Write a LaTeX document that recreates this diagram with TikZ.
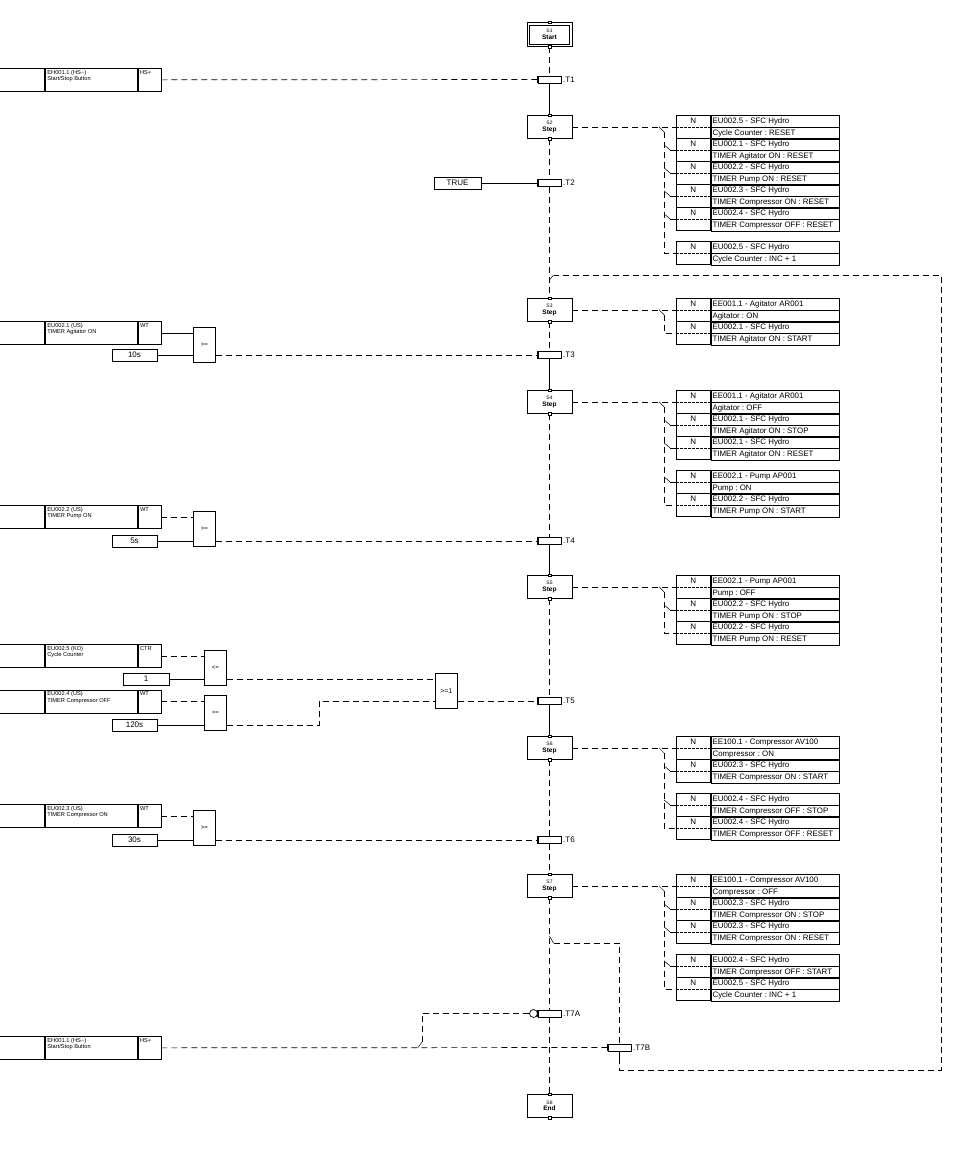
\documentclass[tikz,border=0pt]{standalone}
\usepackage{fontspec}
\setmainfont{Liberation Sans}
\usetikzlibrary{calc}

\tikzset{
  stepnode/.style={draw, fill=white, minimum width=45pt, minimum height=23pt, inner sep=0pt, align=center, font=\fontsize{6.5}{7}\selectfont\bfseries},
  trans/.style={draw, fill=white, minimum width=23pt, minimum height=7pt, inner sep=0pt},
  tlab/.style={font=\fontsize{8}{8}\selectfont, inner sep=1.5pt},
  ncell/.style={draw, minimum width=34pt, minimum height=23pt, inner sep=0pt},
  ntext/.style={minimum height=11.5pt, inner sep=0pt, font=\fontsize{8}{8}\selectfont},
  arow/.style={draw, minimum height=11.5pt, text width=125pt, inner xsep=1.5pt, inner ysep=0pt, align=flush left, font=\fontsize{7.9}{8}\selectfont\frenchspacing},
  varcut/.style={draw, minimum width=60pt, minimum height=23pt, inner sep=0pt},
  varcell/.style={draw, minimum width=92pt, minimum height=23pt, inner sep=0pt},
  typecell/.style={draw, minimum width=23pt, minimum height=23pt, inner sep=0pt},
  vartxt/.style={font=\fontsize{5.7}{6.3}\selectfont, align=left, inner xsep=2pt, inner ysep=2pt},
  constbox/.style={draw, minimum width=45pt, minimum height=12pt, inner sep=0pt, font=\fontsize{8}{8}\selectfont},
  gate/.style={draw, minimum width=22pt, minimum height=35pt, inner sep=0pt, font=\fontsize{6}{6}\selectfont},
  conn/.style={dash pattern=on 6pt off 4pt},
  fine/.style={dash pattern=on 2.5pt off 1.5pt, line width=0.5pt},
  wire/.style={solid},
  tick/.style={solid, line width=0.5pt}
}

% step label: small number over bold name
\newcommand{\stp}[2]{{\fontsize{5}{5}\selectfont\mdseries S#1}\\[-0.5pt]#2}

% one action: N cell plus two text rows
\newcommand{\actn}[4]{%
  \node[ncell, anchor=north west] (#1) at (676,#2) {};
  \node[ntext, anchor=north] (#1n) at (#1.north) {N};
  \node[arow, anchor=north west] (#1a) at (#1.north east) {#3};
  \node[arow, anchor=north west] (#1b) at (#1a.south west) {#4};
}

% variable box on the left edge
\newcommand{\varbox}[5]{%
  \node[varcut, anchor=north east] (#1c) at (45,#2) {};
  \node[varcell, anchor=north west] (#1) at (45,#2) {};
  \node[vartxt, anchor=north west] (#1l) at (#1.north west) {#3\\#4};
  \node[typecell, anchor=north west] (#1t) at (#1.north east) {};
  \node[vartxt, anchor=north west] (#1tl) at (#1t.north west) {#5};
}

% step to its actions: first, last, middle ones
\newcommand{\actlink}[4]{%
  \draw[conn] (#1.east) -- (#2.west);
  \draw[tick] ($(#2.west)+(-17,0)$) -- ($(#2.west)+(-12,5)$);
  \draw[conn] ($(#2.west)+(-12,5)$) |- (#3.west);
  \foreach \m in {#4} {
    \draw[tick] ($(\m.west)+(-12,-5)$) -- ($(\m.west)+(-6,0)$);
    \draw[conn] ($(\m.west)+(-6,0)$) -- (\m.west);
  }
}

\begin{document}
\begin{tikzpicture}[x=1pt,y=-1pt,line width=0.7pt]
  \clip (0,0) rectangle (980,1152);
  \fill[white] (0,0) rectangle (980,1152);

  % steps
  \node[stepnode, minimum height=24pt, anchor=north] (S1) at (549.5,22) {\stp{1}{Start}};
  \node[draw, minimum width=40pt, minimum height=19pt, inner sep=0pt] (S1i) at (S1.center) {};
  \node[stepnode, anchor=north] (S2) at (549.5,115) {\stp{2}{Step}};
  \node[stepnode, anchor=north] (S3) at (549.5,298) {\stp{3}{Step}};
  \node[stepnode, anchor=north] (S4) at (549.5,390) {\stp{4}{Step}};
  \node[stepnode, anchor=north] (S5) at (549.5,575) {\stp{5}{Step}};
  \node[stepnode, anchor=north] (S6) at (549.5,736) {\stp{6}{Step}};
  \node[stepnode, anchor=north] (S7) at (549.5,874) {\stp{7}{Step}};
  \node[stepnode, anchor=north] (S8) at (549.5,1094) {\stp{8}{End}};

  % transitions
  \node[trans, label={[tlab]east:.T1}] (T1) at (549.5,79.5) {};
  \node[trans, label={[tlab]east:.T2}] (T2) at (549.5,183) {};
  \node[trans, label={[tlab]east:.T3}] (T3) at (549.5,355) {};
  \node[trans, label={[tlab]east:.T4}] (T4) at (549.5,541) {};
  \node[trans, label={[tlab]east:.T5}] (T5) at (549.5,701) {};
  \node[trans, label={[tlab]east:.T6}] (T6) at (549.5,840) {};
  \node[trans, label={[tlab]east:.T7A}] (T7A) at (549.5,1013.5) {};
  \node[draw, circle, minimum size=8pt, inner sep=0pt] (T7An) at (533.5,1013.5) {};
  \node[trans, label={[tlab]east:.T7B}] (T7B) at (619.5,1047.5) {};

  % main chain
  \foreach \a/\b/\s in {S1/T1/conn, T1/S2/wire, S2/T2/conn, T2/S3/conn, S3/T3/conn,
      T3/S4/wire, S4/T4/conn, T4/S5/wire, S5/T5/conn, T5/S6/wire, S6/T6/conn,
      T6/S7/conn, S7/T7A/conn, T7A/S8/conn}
    \draw[\s] (\a.south) -- (\b.north);

  % loop back from T7B
  \coordinate (b7a) at (549.5,936);
  \coordinate (b7b) at (553.5,943);
  \draw[tick] (b7a) -- (b7b);
  \draw[conn] (b7b) -| (T7B.north);
  \draw[wire] (T7B.south) -- ++(0,7) coordinate (lp0);
  \coordinate (lpA) at (941,1070);
  \coordinate (lpB) at (941,275);
  \coordinate (lpC) at (553.5,275);
  \draw[conn] (lp0) |- (lpA) -- (lpB) -- (lpC);
  \draw[tick] (lpC) -- (549.5,280);

  % actions
  \actn{a21}{115}{EU002.5 - SFC Hydro}{Cycle Counter : RESET}
  \actn{a22}{138}{EU002.1 - SFC Hydro}{TIMER Agitator ON : RESET}
  \actn{a23}{161}{EU002.2 - SFC Hydro}{TIMER Pump ON : RESET}
  \actn{a24}{184}{EU002.3 - SFC Hydro}{TIMER Compressor ON : RESET}
  \actn{a25}{207}{EU002.4 - SFC Hydro}{TIMER Compressor OFF : RESET}
  \actn{a26}{241}{EU002.5 - SFC Hydro}{Cycle Counter : INC + 1}
  \actn{a31}{298}{EE001.1 - Agitator AR001}{Agitator : ON}
  \actn{a32}{321}{EU002.1 - SFC Hydro}{TIMER Agitator ON : START}
  \actn{a41}{390}{EE001.1 - Agitator AR001}{Agitator : OFF}
  \actn{a42}{413}{EU002.1 - SFC Hydro}{TIMER Agitator ON : STOP}
  \actn{a43}{436}{EU002.1 - SFC Hydro}{TIMER Agitator ON : RESET}
  \actn{a44}{470}{EE002.1 - Pump AP001}{Pump : ON}
  \actn{a45}{493}{EU002.2 - SFC Hydro}{TIMER Pump ON : START}
  \actn{a51}{575}{EE002.1 - Pump AP001}{Pump : OFF}
  \actn{a52}{598}{EU002.2 - SFC Hydro}{TIMER Pump ON : STOP}
  \actn{a53}{621}{EU002.2 - SFC Hydro}{TIMER Pump ON : RESET}
  \actn{a61}{736}{EE100.1 - Compressor AV100}{Compressor : ON}
  \actn{a62}{759}{EU002.3 - SFC Hydro}{TIMER Compressor ON : START}
  \actn{a63}{793}{EU002.4 - SFC Hydro}{TIMER Compressor OFF : STOP}
  \actn{a64}{816}{EU002.4 - SFC Hydro}{TIMER Compressor OFF : RESET}
  \actn{a71}{874}{EE100.1 - Compressor AV100}{Compressor : OFF}
  \actn{a72}{897}{EU002.3 - SFC Hydro}{TIMER Compressor ON : STOP}
  \actn{a73}{920}{EU002.3 - SFC Hydro}{TIMER Compressor ON : RESET}
  \actn{a74}{954}{EU002.4 - SFC Hydro}{TIMER Compressor OFF : START}
  \actn{a75}{977}{EU002.5 - SFC Hydro}{Cycle Counter : INC + 1}

  % step to action links
  \actlink{S2}{a21}{a26}{a22,a23,a24,a25}
  \draw[conn] (S3.east) -- (a31.west);
  \draw[tick] ($(a31.west)+(-17,0)$) -- ($(a31.west)+(-12,5)$);
  \draw[conn] ($(a31.west)+(-12,5)$) |- (a32.west);
  \actlink{S4}{a41}{a45}{a42,a43,a44}
  \actlink{S5}{a51}{a53}{a52}
  \actlink{S6}{a61}{a64}{a62,a63}
  \actlink{S7}{a71}{a75}{a72,a73,a74}
  \foreach \a in {a21,a22,a23,a24,a25,a26,a31,a32,a41,a42,a43,a44,a45,
      a51,a52,a53,a61,a62,a63,a64,a71,a72,a73,a74,a75}
    \draw[fine] (\a.west) -- (\a.east);

  % conditions on the left
  \varbox{v1}{68}{EH001.1 (HS−)}{Start/Stop Button}{HS+}
  \draw[conn] (v1t.east) -- (T1.west);

  \node[constbox, minimum width=47pt] (c2) at (457.5,183) {TRUE};
  \draw[wire] (c2.east) -- (T2.west);

  \varbox{v3}{321}{EU002.1 (US)}{TIMER Agitator ON}{WT}
  \node[gate, anchor=north west] (g3) at (193,327) {>=};
  \node[constbox] (c3) at (134.5,355) {10s};
  \draw[wire] (v3t.east) -- (v3t.east -| g3.west);
  \draw[wire] (c3.east) -- (c3.east -| g3.west);
  \draw[conn] (c3.east -| g3.east) -- (T3.west);

  \varbox{v4}{505}{EU002.2 (US)}{TIMER Pump ON}{WT}
  \node[gate, anchor=north west] (g4) at (193,511) {>=};
  \node[constbox] (c4) at (134.5,541) {5s};
  \draw[conn] (v4t.east) -- (v4t.east -| g4.west);
  \draw[wire] (c4.east) -- (c4.east -| g4.west);
  \draw[conn] (c4.east -| g4.east) -- (T4.west);

  \varbox{v5a}{644}{EU002.5 (KO)}{Cycle Counter}{CTR}
  \node[gate, anchor=north west] (g5a) at (204,650) {<=};
  \node[constbox, minimum width=46pt] (c5a) at (146,679) {1};
  \varbox{v5b}{689.5}{EU002.4 (US)}{TIMER Compressor OFF}{WT}
  \node[gate, anchor=north west] (g5b) at (204,695) {>=};
  \node[constbox] (c5b) at (134.5,725) {120s};
  \node[gate, anchor=north west, font=\fontsize{7}{7}\selectfont] (g5c) at (435,673) {>=1};
  \coordinate (j5) at (319,701);
  \draw[conn] (v5at.east) -- (v5at.east -| g5a.west);
  \draw[wire] (c5a.east) -- (c5a.east -| g5a.west);
  \draw[conn] (v5bt.east) -- (v5bt.east -| g5b.west);
  \draw[wire] (c5b.east) -- (c5b.east -| g5b.west);
  \draw[conn] (c5a.east -| g5a.east) -- (c5a.east -| g5c.west);
  \draw[conn] (c5b.east -| g5b.east) -| (j5) -- (j5 -| g5c.west);
  \draw[conn] (j5 -| g5c.east) -- (T5.west);

  \varbox{v6}{804}{EU002.3 (US)}{TIMER Compressor ON}{WT}
  \node[gate, anchor=north west] (g6) at (193,810) {>=};
  \node[constbox] (c6) at (134.5,840) {30s};
  \draw[conn] (v6t.east) -- (v6t.east -| g6.west);
  \draw[wire] (c6.east) -- (c6.east -| g6.west);
  \draw[conn] (c6.east -| g6.east) -- (T6.west);

  \varbox{v7}{1036}{EH001.1 (HS−)}{Start/Stop Button}{HS+}
  \coordinate (j7) at (422,1042);
  \draw[conn] (T7An.west) -| (j7);
  \draw[tick] (j7) -- (418,1047.5);
  \draw[conn] (v7t.east) -- (T7B.west);

  % marks on steps and transitions
  \foreach \s in {S1,S2,S3,S4,S5,S6,S7,S8} {
    \draw[fill=white, line width=0.5pt] ($(\s.north)+(-1.6,-1.2)$) rectangle ($(\s.north)+(1.6,1.2)$);
    \draw[fill=white, line width=0.5pt] ($(\s.south)+(-1.6,-1.2)$) rectangle ($(\s.south)+(1.6,1.2)$);
    \draw[line width=1.4pt] ($(\s.east)+(0,-2.5)$) -- ($(\s.east)+(0,2.5)$);
  }
  \foreach \t in {T1,T2,T3,T4,T5,T6,T7A,T7B}
    \draw[line width=1.6pt] (\t.north west) -- (\t.south west);
\end{tikzpicture}
\end{document}
